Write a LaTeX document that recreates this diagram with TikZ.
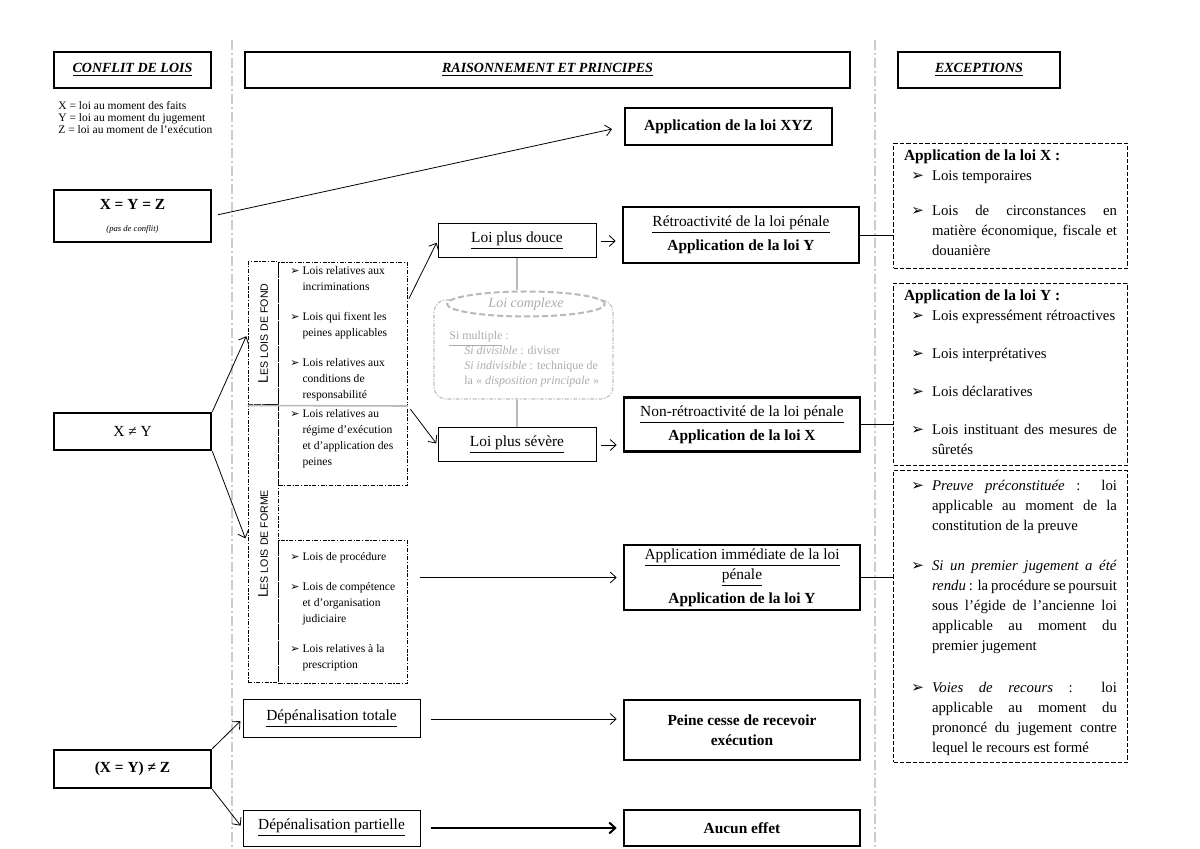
\documentclass[tikz,border=0pt]{standalone}
\usepackage{fontspec}
\setmainfont{Liberation Serif}
\setsansfont{Liberation Sans}
\newfontfamily\dejavu{DejaVu Sans}
\usepackage{graphicx}
\usepackage{tikz}
\usetikzlibrary{arrows.meta,shapes.geometric}

\newcommand{\fs}[2]{\fontsize{#1}{#2}\selectfont}
\newcommand{\puce}{\par\noindent\llap{{\dejavu\fs{7.5}{6}➢}\hspace{4pt}}}
\newcommand{\pucette}{\par\noindent\llap{{\dejavu\fs{5.5}{5}➢}\hspace{1.5pt}}}
\newcommand{\lesloisde}[1]{{\sffamily\fs{7}{8}L\fs{5.3}{8}ES LOIS DE #1}}

\begin{document}
\begin{tikzpicture}[x=0.5pt,y=-0.5pt,>={Straight Barb[length=3pt,width=5.5pt]},
 every node/.style={inner sep=0pt},
 titre/.style={draw,line width=.6pt,minimum height=18pt,font=\fs{7}{9}\bfseries\itshape},
 fort/.style={draw,line width=1.3pt,align=center,font=\fs{7.7}{10}},
 mince/.style={draw,line width=.5pt,align=center,font=\fs{7.7}{10}},
 tiret/.style={draw,line width=.5pt,dash pattern=on 2pt off .8pt on .6pt off .8pt},
 cadre/.style={draw,line width=.5pt,dash pattern=on 2.2pt off 1pt,anchor=north west,inner xsep=5.25pt,inner ysep=3pt},
 liste/.style={tiret,anchor=north west,inner xsep=5pt,inner ysep=2pt,font=\fs{5.8}{8}},
 gris/.style={draw=gray!55,line width=1pt},
 separe/.style={draw=gray!40,line width=.9pt,dash pattern=on 5pt off 1.5pt on 1pt off 1.5pt}]
 \useasboundingbox (0,0) rectangle (1200,849);

 \draw[separe] (232,40) -- (232,849);
 \draw[separe] (875,40) -- (875,849);

 \node[titre,minimum width=78.5pt] (hconflit) at (132.5,70) {\underline{CONFLIT DE LOIS}};
 \node[titre,minimum width=302.5pt] (hraison) at (547.5,70) {\underline{RAISONNEMENT ET PRINCIPES}};
 \node[titre,minimum width=81pt] (hexcept) at (979,70) {\underline{EXCEPTIONS}};

 \node[anchor=north west,align=left,font=\fs{5.75}{6}] (legende) at (58,101) {X = loi au moment des faits\\ Y = loi au moment du jugement\\ Z = loi au moment de l'exécution};

 \node[fort,minimum width=78.5pt,minimum height=26pt] (xyz) at (132.5,216) {\textbf{X = Y = Z}\\[1pt] {\fs{4.3}{5}\itshape (pas de conflit)}};
 \node[fort,minimum width=78.5pt,minimum height=18.5pt] (xney) at (132.5,431.5) {X ≠ Y};
 \node[fort,minimum width=78.5pt,minimum height=19pt,font=\fs{7.7}{10}\bfseries] (xyneZ) at (132.5,769) {(X = Y) ≠ Z};

 \node[fort,minimum width=103.5pt,minimum height=18.5pt,font=\fs{7.7}{10}\bfseries] (appXYZ) at (728.5,126.5) {Application de la loi XYZ};

 \node[tiret,minimum width=15pt,minimum height=71.5pt] (fond) at (263,333.5) {\rotatebox{90}{\lesloisde{FOND}}};
 \node[liste] (fondliste) at (278,262) {\parbox[c][67.5pt][t]{54.5pt}{\raggedright\leftskip=7pt
  \pucette Lois relatives aux\\ incriminations\par\vspace{7pt}
  \pucette Lois qui fixent les\\ peines applicables\par\vspace{7pt}
  \pucette Lois relatives aux\\ conditions de\\ responsabilité}};
 \node[tiret,minimum width=15pt,minimum height=139pt] (forme) at (263,544) {\rotatebox{90}{\lesloisde{FORME}}};
 \node[liste] (regime) at (278,405) {\parbox[c][36pt][t]{54.5pt}{\raggedright\leftskip=7pt
  \pucette Lois relatives au\\ régime d'exécution\\ et d'application des\\ peines}};
 \node[liste] (procedure) at (278,540) {\parbox[c][67.5pt][t]{54.5pt}{\raggedright\leftskip=7pt
  \vspace*{4pt}\pucette Lois de procédure\par\vspace{7pt}
  \pucette Lois de compétence\\ et d'organisation\\ judiciaire\par\vspace{7pt}
  \pucette Lois relatives à la\\ prescription}};
 \draw[gris,line width=.8pt] (fond.south west) -- (fondliste.south east);

 \node[mince,minimum width=79pt,minimum height=17pt] (douce) at (517,241) {\underline{Loi plus douce}};
 \node[mince,minimum width=79pt,minimum height=17pt] (severe) at (517,445) {\underline{Loi plus sévère}};
 \node[draw=gray!50,line width=.6pt,dash pattern=on 2pt off .8pt on .6pt off .8pt,rounded corners=6pt,minimum width=89.5pt,minimum height=49.5pt] (complexe) at (523.5,349.5) {};
 \node[ellipse,draw=gray!55,fill=white,line width=1pt,dash pattern=on 3pt off 1.5pt,minimum width=79pt,minimum height=12.5pt,font=\fs{7}{8}\itshape,text=gray!65] (loicomplexe) at (526,304) {Loi complexe};
 \node[anchor=west,align=left,font=\fs{6}{7.5},text=gray!65] (multiple) at (449,359.5) {\underline{Si multiple} :\\ \hspace*{7.5pt}\textit{Si divisible} : diviser\\ \hspace*{7.5pt}\textit{Si indivisible} : technique de\\ \hspace*{7.5pt}la « \textit{disposition principale} »};
 \draw[gris] (douce.south) -- (douce.south |- loicomplexe.north);
 \draw[gris] (severe.north) -- (severe.north |- complexe.south);

 \node[fort,minimum width=118pt,minimum height=28pt] (retro) at (741,235) {\underline{Rétroactivité de la loi pénale}\\[2pt] \textbf{Application de la loi Y}};
 \node[fort,minimum width=118pt,minimum height=27pt] (nonretro) at (742,424.5) {\underline{Non-rétroactivité de la loi pénale}\\[2pt] \textbf{Application de la loi X}};
 \node[fort,minimum width=118pt,minimum height=32.5pt,font=\fs{7.7}{8.5}] (immediate) at (742,577.5) {\underline{Application immédiate de la loi}\\ \underline{pénale}\\[2pt] \textbf{Application de la loi Y}};
 \node[fort,minimum width=118pt,minimum height=30pt,font=\fs{7.7}{10}\bfseries] (peine) at (742,730) {Peine cesse de recevoir\\ exécution};
 \node[fort,minimum width=118pt,minimum height=18pt,font=\fs{7.7}{10}\bfseries] (aucun) at (742,828) {Aucun effet};
 \node[mince,minimum width=88.5pt,minimum height=19pt] (dtotale) at (331.5,719) {\underline{Dépénalisation totale}};
 \node[mince,minimum width=88.5pt,minimum height=18pt] (dpartielle) at (331.5,828) {\underline{Dépénalisation partielle}};

 \node[cadre] (exceptX) at (893,143) {\parbox[c][56.5pt][t]{106.5pt}{\fs{7.7}{10}\textbf{Application de la loi X :}\par
  \fs{7.4}{10}\leftskip=14pt
  \puce Lois temporaires\par\vspace{7.5pt}
  \puce Lois de circonstances en\linebreak matière économique, fiscale et\linebreak douanière}};
 \node[cadre] (exceptY) at (893,283) {\parbox[c][85pt][t]{106.5pt}{\fs{7.7}{10}\textbf{Application de la loi Y :}\par
  \fs{7.4}{10}\leftskip=14pt
  \puce Lois expressément rétroactives\par\vspace{9pt}
  \puce Lois interprétatives\par\vspace{9pt}
  \puce Lois déclaratives\par\vspace{9pt}
  \puce Lois instituant des mesures de\linebreak sûretés}};
 \node[cadre] (exceptAutres) at (893,470) {\parbox[c][140pt][t]{106.5pt}{\fs{7.4}{10}\leftskip=14pt
  \vspace*{2pt}\puce\textit{Preuve préconstituée} : loi\linebreak applicable au moment de la\linebreak constitution de la preuve\par\vspace{10pt}
  \puce\textit{Si un premier jugement a été}\linebreak \textit{rendu} : la procédure se poursuit\linebreak sous l'égide de l'ancienne loi\linebreak applicable au moment du\linebreak premier jugement\par\vspace{11pt}
  \puce\textit{Voies de recours} : loi\linebreak applicable au moment du\linebreak prononcé du jugement contre\linebreak lequel le recours est formé}};

 \draw[->,shorten <=3pt,shorten >=6pt] (xyz.east) -- (appXYZ.west);
 \draw[->,shorten >=1.5pt] (xney.north east) -- (fond.west);
 \draw[->,shorten >=3pt] (xney.south east) -- (forme.west);
 \draw[->,shorten <=1pt,shorten >=1pt] ([yshift=16.75pt]fondliste.east) -- (douce.west);
 \draw[->,shorten <=2pt,shorten >=1pt] (fondliste.south east) -- (severe.west);
 \draw[->,shorten <=2pt,shorten >=3pt] (douce.east) -- (douce.east -| retro.west);
 \draw[->,shorten <=2pt,shorten >=3pt] (severe.east) -- (severe.east -| nonretro.west);
 \draw[->,shorten <=6pt,shorten >=3pt] (procedure.east |- immediate.west) -- (immediate.west);
 \draw[->,shorten >=1.5pt] (xyneZ.north east) -- (dtotale.west);
 \draw[->,shorten >=1.5pt] (xyneZ.south east) -- (dpartielle.west);
 \draw[->,shorten <=5pt,shorten >=3pt] (dtotale.east) -- (dtotale.east -| peine.west);
 \draw[->,line width=1pt,shorten <=5pt,shorten >=3pt] (dpartielle.east) -- (aucun.west);
 \draw (retro.east) -- (retro.east -| exceptX.west);
 \draw (nonretro.east) -- (nonretro.east -| exceptY.west);
 \draw (immediate.east) -- (immediate.east -| exceptAutres.west);
\end{tikzpicture}
\end{document}
